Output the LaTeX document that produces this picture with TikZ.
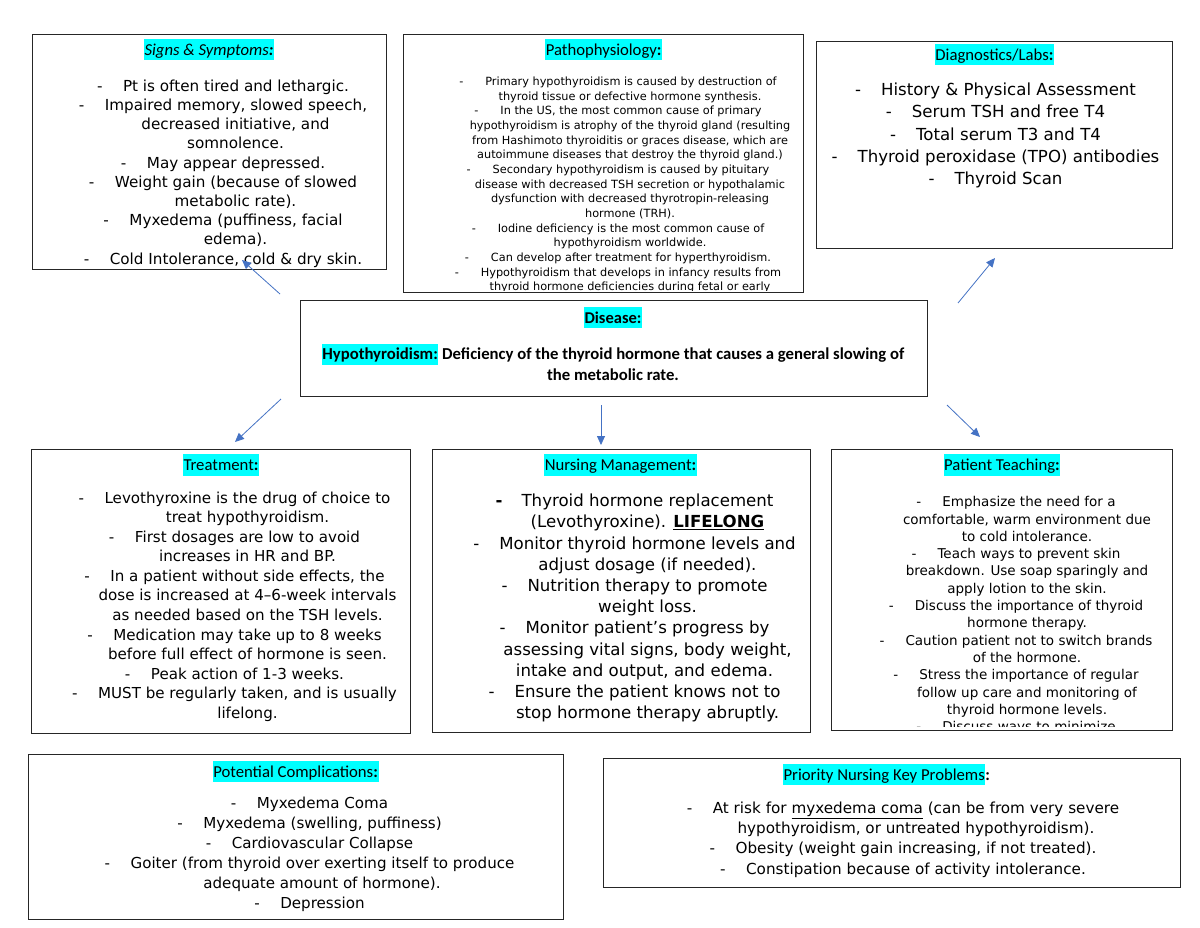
\documentclass[tikz,border=0pt]{standalone}
\usepackage{fontspec}
\setmainfont{DejaVu Sans}
\newfontfamily\hfont{Carlito}
\usetikzlibrary{arrows.meta}
\definecolor{hlcyan}{HTML}{00FFFF}
\definecolor{arrowblue}{HTML}{4472C4}
\newcommand{\bl}{\makebox[26pt][l]{-}}
\newcommand{\blb}{\makebox[26pt][l]{\bfseries -}}
\newcommand{\hlt}[1]{{\setlength{\fboxsep}{0.6pt}\colorbox{hlcyan}{\rule[-0.27em]{0pt}{1.22em}#1}}}
\newcommand{\ind}[1]{\hspace*{#1pt}}
\begin{document}
\begin{tikzpicture}[x=1pt,y=-1pt,
  box/.style={draw=black!85, line width=1.1pt, anchor=north west, inner sep=0pt},
  head/.style={anchor=base, inner sep=0pt, font=\hfont\fontsize{16.7}{20}\selectfont},
  body/.style={anchor=north, inner sep=0pt, align=center},
  conn/.style={draw=arrowblue, line width=0.8pt, -{Triangle[length=9pt,width=8pt]}}
]
\useasboundingbox (0,0) rectangle (1200,927);
\fill[white] (0,0) rectangle (1200,927);

% ---------- boxes ----------
\node[box, minimum width=354pt, minimum height=235pt] (signs) at (32,34) {};
\node[box, minimum width=400pt, minimum height=258pt] (patho) at (403,34) {};
\node[box, minimum width=356pt, minimum height=207pt] (diag) at (816,41) {};
\node[box, minimum width=627pt, minimum height=96pt] (dis) at (300,300) {};
\node[box, minimum width=379pt, minimum height=284pt] (treat) at (31,449) {};
\node[box, minimum width=378pt, minimum height=283pt] (nurse) at (432,449) {};
\node[box, minimum width=341pt, minimum height=281pt] (teach) at (831,449) {};
\node[box, minimum width=535pt, minimum height=165pt] (pot) at (28,754) {};
\node[box, minimum width=577pt, minimum height=129pt] (prio) at (603,758) {};

% ---------- headings ----------
\node[head] (signsH) at (209,55.2) {\hlt{\itshape Signs \& Symptoms\bfseries :}};
\node[head] (pathoH) at (603.7,55.2) {\hlt{Pathophysiology\textbf{:}}};
\node[head] (diagH) at (994.5,60.2) {\hlt{Diagnostics/Labs\textbf{:}}};
\node[head, font=\hfont\bfseries\fontsize{16.5}{20}\selectfont] (disH) at (613,323) {\hlt{Disease:}};
\node[head] (treatH) at (221,470.9) {\hlt{Treatment\textbf{:}}};
\node[head] (nurseH) at (620.5,470.9) {\hlt{Nursing Management\textbf{:}}};
\node[head] (teachH) at (1002,470.9) {\hlt{Patient Teaching\textbf{:}}};
\node[head] (potH) at (295.6,777) {\hlt{Potential Complications\textbf{:}}};
\node[head] (prioH) at (886.5,780) {\hlt{Priority Nursing Key Problems}\textbf{:}};

% ---------- bodies ----------
\begin{scope}
\clip (signs.north west) rectangle (signs.south east);
\node[body, font=\fontsize{15.2}{19.2}\selectfont] (signsT) at (223,77.6) {\strut\bl Pt is often tired and lethargic.\\
\bl Impaired memory, slowed speech,\\
\ind{25}decreased initiative, and\\
\ind{25}somnolence.\\
\bl May appear depressed.\\
\bl Weight gain (because of slowed\\
\ind{25}metabolic rate).\\
\bl Myxedema (puffiness, facial\\
\ind{25}edema).\\
\bl Cold Intolerance, cold \& dry skin.};
\end{scope}

\begin{scope}
\clip (403,34) rectangle (803,290);
\node[body, font=\fontsize{11.3}{14.66}\selectfont] (pathoT) at (618,75.1) {\strut\bl Primary hypothyroidism is caused by destruction of\\
\ind{24}thyroid tissue or defective hormone synthesis.\\
\bl In the US, the most common cause of primary\\
\ind{24}hypothyroidism is atrophy of the thyroid gland (resulting\\
\ind{24}from Hashimoto thyroiditis or graces disease, which are\\
\ind{24}autoimmune diseases that destroy the thyroid gland.)\\
\bl Secondary hypothyroidism is caused by pituitary\\
\ind{24}disease with decreased TSH secretion or hypothalamic\\
\ind{24}dysfunction with decreased thyrotropin-releasing\\
\ind{24}hormone (TRH).\\
\bl Iodine deficiency is the most common cause of\\
\ind{24}hypothyroidism worldwide.\\
\bl Can develop after treatment for hyperthyroidism.\\
\bl Hypothyroidism that develops in infancy results from\\
\ind{24}thyroid hormone deficiencies during fetal or early};
\end{scope}

\node[body, font=\fontsize{16.6}{22.25}\selectfont] (diagT) at (995.5,79.9) {\strut\bl History \& Physical Assessment\\
\bl Serum TSH and free T4\\
\bl Total serum T3 and T4\\
\bl Thyroid peroxidase (TPO) antibodies\\
\bl Thyroid Scan};

\node[body, font=\hfont\bfseries\fontsize{16.7}{20.5}\selectfont] (disT) at (613,343.3) {\strut\hlt{Hypothyroidism:} Deficiency of the thyroid hormone that causes a general slowing of\\
the metabolic rate.};

\node[body, font=\fontsize{15.1}{19.55}\selectfont] (treatT) at (234.5,489.3) {\strut\bl Levothyroxine is the drug of choice to\\
\ind{26}treat hypothyroidism.\\
\bl First dosages are low to avoid\\
\ind{26}increases in HR and BP.\\
\bl In a patient without side effects, the\\
\ind{26}dose is increased at 4–6-week intervals\\
\ind{26}as needed based on the TSH levels.\\
\bl Medication may take up to 8 weeks\\
\ind{26}before full effect of hormone is seen.\\
\bl Peak action of 1-3 weeks.\\
\bl MUST be regularly taken, and is usually\\
\ind{26}lifelong.};

\node[body, font=\fontsize{16.6}{21.2}\selectfont] (nurseT) at (634.5,491.7) {\strut\blb Thyroid hormone replacement\\
\ind{26}(Levothyroxine). \textbf{\underline{LIFELONG}}\\
\bl Monitor thyroid hormone levels and\\
\ind{26}adjust dosage (if needed).\\
\bl Nutrition therapy to promote\\
\ind{26}weight loss.\\
\bl Monitor patient’s progress by\\
\ind{26}assessing vital signs, body weight,\\
\ind{20}intake and output, and edema.\\
\bl Ensure the patient knows not to\\
\ind{26}stop hormone therapy abruptly.};

\begin{scope}
\clip (831,449) rectangle (1172,726.5);
\node[body, font=\fontsize{13.5}{17.3}\selectfont] (teachT) at (1016,494.4) {\strut\bl Emphasize the need for a\\
\ind{22}comfortable, warm environment due\\
\ind{22}to cold intolerance.\\
\bl Teach ways to prevent skin\\
\ind{22}breakdown. Use soap sparingly and\\
\ind{22}apply lotion to the skin.\\
\bl Discuss the importance of thyroid\\
\ind{22}hormone therapy.\\
\bl Caution patient not to switch brands\\
\ind{22}of the hormone.\\
\bl Stress the importance of regular\\
\ind{22}follow up care and monitoring of\\
\ind{22}thyroid hormone levels.\\
\bl Discuss ways to minimize};
\end{scope}

\node[body, font=\fontsize{15.1}{20.1}\selectfont] (potT) at (309.5,794.2) {\strut\bl Myxedema Coma\\
\bl Myxedema (swelling, puffiness)\\
\bl Cardiovascular Collapse\\
\bl Goiter (from thyroid over exerting itself to produce\\
\ind{25}adequate amount of hormone).\\
\bl Depression};

\node[body, font=\fontsize{15.2}{20.3}\selectfont] (prioT) at (903,798.8) {\strut\bl At risk for \underline{myxedema coma} (can be from very severe\\
\ind{26}hypothyroidism, or untreated hypothyroidism).\\
\bl Obesity (weight gain increasing, if not treated).\\
\bl Constipation because of activity intolerance.};

% ---------- connectors ----------
\coordinate (a1s) at (280,294);  \coordinate (a1e) at (242,260);
\coordinate (a2s) at (281,399);  \coordinate (a2e) at (235,442);
\coordinate (a3s) at (601,405);  \coordinate (a3e) at (601,445);
\coordinate (a4s) at (947,405);  \coordinate (a4e) at (980,437);
\coordinate (a5s) at (958,303);  \coordinate (a5e) at (995,258);
\draw[conn] (a1s) -- (a1e);
\draw[conn] (a2s) -- (a2e);
\draw[conn] (a3s) -- (a3e);
\draw[conn] (a4s) -- (a4e);
\draw[conn] (a5s) -- (a5e);
\end{tikzpicture}
\end{document}
